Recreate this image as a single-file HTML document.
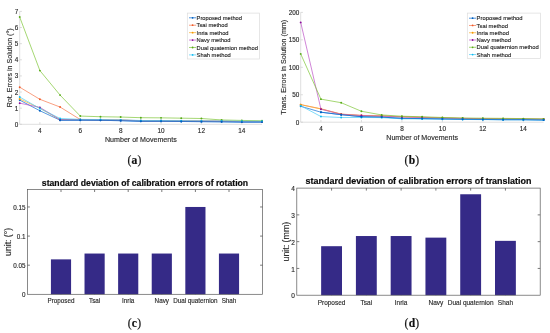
<!DOCTYPE html>
<html lang="en"><head><meta charset="utf-8"><title>Figure</title>
<style>
html,body{margin:0;padding:0;background:#fff;}
body{width:550px;height:333px;overflow:hidden;}
svg{display:block;}
text{font-family:"Liberation Sans",Arial,sans-serif;fill:#2a2a2a;stroke:#2a2a2a;stroke-width:0.14px;}
.tk{font-size:6.4px;}
.lb{font-size:7.1px;}
.lg{font-size:5.76px;fill:#1c1c1c;}
.bk{font-size:5.4px;}
.tt{font-weight:bold;fill:#0c0c0c;stroke:#0c0c0c;stroke-width:0.2px;}
.cap{font-family:"Liberation Serif","Times New Roman",serif;font-size:11.6px;fill:#111;stroke:#111;stroke-width:0.18px;letter-spacing:0.2px;}
.cap tspan{font-weight:bold;}
</style></head><body>
<svg width="550" height="333" viewBox="0 0 550 333">
<rect width="550" height="333" fill="#fff"/>
<g class="lc">
<path d="M19.7 11.4V124.3H262.0" fill="none" stroke="#cdcdcd" stroke-width="0.65"/>
<path d="M39.89 124.3v-2.2M80.28 124.3v-2.2M120.66 124.3v-2.2M161.04 124.3v-2.2M201.42 124.3v-2.2M241.81 124.3v-2.2M19.7 124.30h2.2M19.7 108.17h2.2M19.7 92.04h2.2M19.7 75.91h2.2M19.7 59.79h2.2M19.7 43.66h2.2M19.7 27.53h2.2M19.7 11.40h2.2" fill="none" stroke="#cdcdcd" stroke-width="0.7"/>
<text class="tk" x="39.89" y="132.90" text-anchor="middle">4</text>
<text class="tk" x="80.28" y="132.90" text-anchor="middle">6</text>
<text class="tk" x="120.66" y="132.90" text-anchor="middle">8</text>
<text class="tk" x="161.04" y="132.90" text-anchor="middle">10</text>
<text class="tk" x="201.42" y="132.90" text-anchor="middle">12</text>
<text class="tk" x="241.81" y="132.90" text-anchor="middle">14</text>
<text class="tk" x="18.30" y="126.80" text-anchor="end">0</text>
<text class="tk" x="18.30" y="110.67" text-anchor="end">1</text>
<text class="tk" x="18.30" y="94.54" text-anchor="end">2</text>
<text class="tk" x="18.30" y="78.41" text-anchor="end">3</text>
<text class="tk" x="18.30" y="62.29" text-anchor="end">4</text>
<text class="tk" x="18.30" y="46.16" text-anchor="end">5</text>
<text class="tk" x="18.30" y="30.03" text-anchor="end">6</text>
<text class="tk" x="18.30" y="13.90" text-anchor="end">7</text>
<text class="lb" x="140.85" y="141.60" text-anchor="middle">Number of Movements</text>
<text class="lb" transform="translate(12.2 67.85) rotate(-90)" text-anchor="middle">Rot. Errors in Solution (&#176;)</text>
<path d="M19.70 100.11L39.89 110.75L60.08 120.19L80.28 120.19L100.47 120.35L120.66 120.67L140.85 121.32L161.04 121.32L181.23 121.48L201.42 121.64L221.62 121.80L241.81 122.12L262.00 122.12" fill="none" stroke="#0A6CD2" stroke-width="0.7" stroke-linejoin="round"/>
<circle cx="19.70" cy="100.11" r="0.95" fill="#0060C0"/>
<circle cx="39.89" cy="110.75" r="0.95" fill="#0060C0"/>
<circle cx="60.08" cy="120.19" r="0.95" fill="#0060C0"/>
<circle cx="80.28" cy="120.19" r="0.95" fill="#0060C0"/>
<circle cx="100.47" cy="120.35" r="0.95" fill="#0060C0"/>
<circle cx="120.66" cy="120.67" r="0.95" fill="#0060C0"/>
<circle cx="140.85" cy="121.32" r="0.95" fill="#0060C0"/>
<circle cx="161.04" cy="121.32" r="0.95" fill="#0060C0"/>
<circle cx="181.23" cy="121.48" r="0.95" fill="#0060C0"/>
<circle cx="201.42" cy="121.64" r="0.95" fill="#0060C0"/>
<circle cx="221.62" cy="121.80" r="0.95" fill="#0060C0"/>
<circle cx="241.81" cy="122.12" r="0.95" fill="#0060C0"/>
<circle cx="262.00" cy="122.12" r="0.95" fill="#0060C0"/>
<path d="M19.70 87.20L39.89 99.30L60.08 107.04L80.28 119.54L100.47 119.70L120.66 120.03L140.85 120.67L161.04 120.67L181.23 120.83L201.42 120.99L221.62 121.15L241.81 121.48L262.00 121.48" fill="none" stroke="#F7764A" stroke-width="0.7" stroke-linejoin="round"/>
<circle cx="19.70" cy="87.20" r="0.95" fill="#F05A28"/>
<circle cx="39.89" cy="99.30" r="0.95" fill="#F05A28"/>
<circle cx="60.08" cy="107.04" r="0.95" fill="#F05A28"/>
<circle cx="80.28" cy="119.54" r="0.95" fill="#F05A28"/>
<circle cx="100.47" cy="119.70" r="0.95" fill="#F05A28"/>
<circle cx="120.66" cy="120.03" r="0.95" fill="#F05A28"/>
<circle cx="140.85" cy="120.67" r="0.95" fill="#F05A28"/>
<circle cx="161.04" cy="120.67" r="0.95" fill="#F05A28"/>
<circle cx="181.23" cy="120.83" r="0.95" fill="#F05A28"/>
<circle cx="201.42" cy="120.99" r="0.95" fill="#F05A28"/>
<circle cx="221.62" cy="121.15" r="0.95" fill="#F05A28"/>
<circle cx="241.81" cy="121.48" r="0.95" fill="#F05A28"/>
<circle cx="262.00" cy="121.48" r="0.95" fill="#F05A28"/>
<path d="M19.70 98.98L39.89 108.17L60.08 119.62L80.28 119.62L100.47 119.78L120.66 120.11L140.85 120.75L161.04 120.75L181.23 120.91L201.42 121.07L221.62 121.24L241.81 121.56L262.00 121.56" fill="none" stroke="#F9AE28" stroke-width="0.7" stroke-linejoin="round"/>
<circle cx="19.70" cy="98.98" r="0.95" fill="#F59A00"/>
<circle cx="39.89" cy="108.17" r="0.95" fill="#F59A00"/>
<circle cx="60.08" cy="119.62" r="0.95" fill="#F59A00"/>
<circle cx="80.28" cy="119.62" r="0.95" fill="#F59A00"/>
<circle cx="100.47" cy="119.78" r="0.95" fill="#F59A00"/>
<circle cx="120.66" cy="120.11" r="0.95" fill="#F59A00"/>
<circle cx="140.85" cy="120.75" r="0.95" fill="#F59A00"/>
<circle cx="161.04" cy="120.75" r="0.95" fill="#F59A00"/>
<circle cx="181.23" cy="120.91" r="0.95" fill="#F59A00"/>
<circle cx="201.42" cy="121.07" r="0.95" fill="#F59A00"/>
<circle cx="221.62" cy="121.24" r="0.95" fill="#F59A00"/>
<circle cx="241.81" cy="121.56" r="0.95" fill="#F59A00"/>
<circle cx="262.00" cy="121.56" r="0.95" fill="#F59A00"/>
<path d="M19.70 103.17L39.89 107.36L60.08 119.70L80.28 119.70L100.47 119.86L120.66 120.19L140.85 120.83L161.04 120.83L181.23 120.99L201.42 121.15L221.62 121.32L241.81 121.64L262.00 121.64" fill="none" stroke="#BC52C6" stroke-width="0.7" stroke-linejoin="round"/>
<circle cx="19.70" cy="103.17" r="0.95" fill="#8A0A9A"/>
<circle cx="39.89" cy="107.36" r="0.95" fill="#8A0A9A"/>
<circle cx="60.08" cy="119.70" r="0.95" fill="#8A0A9A"/>
<circle cx="80.28" cy="119.70" r="0.95" fill="#8A0A9A"/>
<circle cx="100.47" cy="119.86" r="0.95" fill="#8A0A9A"/>
<circle cx="120.66" cy="120.19" r="0.95" fill="#8A0A9A"/>
<circle cx="140.85" cy="120.83" r="0.95" fill="#8A0A9A"/>
<circle cx="161.04" cy="120.83" r="0.95" fill="#8A0A9A"/>
<circle cx="181.23" cy="120.99" r="0.95" fill="#8A0A9A"/>
<circle cx="201.42" cy="121.15" r="0.95" fill="#8A0A9A"/>
<circle cx="221.62" cy="121.32" r="0.95" fill="#8A0A9A"/>
<circle cx="241.81" cy="121.64" r="0.95" fill="#8A0A9A"/>
<circle cx="262.00" cy="121.64" r="0.95" fill="#8A0A9A"/>
<path d="M19.70 17.05L39.89 70.59L60.08 95.11L80.28 116.07L100.47 116.72L120.66 117.04L140.85 117.69L161.04 117.85L181.23 118.17L201.42 118.49L221.62 119.95L241.81 120.43L262.00 120.75" fill="none" stroke="#7EC636" stroke-width="0.7" stroke-linejoin="round"/>
<circle cx="19.70" cy="17.05" r="0.95" fill="#58AA18"/>
<circle cx="39.89" cy="70.59" r="0.95" fill="#58AA18"/>
<circle cx="60.08" cy="95.11" r="0.95" fill="#58AA18"/>
<circle cx="80.28" cy="116.07" r="0.95" fill="#58AA18"/>
<circle cx="100.47" cy="116.72" r="0.95" fill="#58AA18"/>
<circle cx="120.66" cy="117.04" r="0.95" fill="#58AA18"/>
<circle cx="140.85" cy="117.69" r="0.95" fill="#58AA18"/>
<circle cx="161.04" cy="117.85" r="0.95" fill="#58AA18"/>
<circle cx="181.23" cy="118.17" r="0.95" fill="#58AA18"/>
<circle cx="201.42" cy="118.49" r="0.95" fill="#58AA18"/>
<circle cx="221.62" cy="119.95" r="0.95" fill="#58AA18"/>
<circle cx="241.81" cy="120.43" r="0.95" fill="#58AA18"/>
<circle cx="262.00" cy="120.75" r="0.95" fill="#58AA18"/>
<path d="M19.70 97.04L39.89 108.49L60.08 118.49L80.28 119.38L100.47 119.54L120.66 119.86L140.85 120.51L161.04 120.51L181.23 120.67L201.42 120.83L221.62 120.99L241.81 121.32L262.00 121.32" fill="none" stroke="#48CCF8" stroke-width="0.7" stroke-linejoin="round"/>
<circle cx="19.70" cy="97.04" r="0.95" fill="#10BCF2"/>
<circle cx="39.89" cy="108.49" r="0.95" fill="#10BCF2"/>
<circle cx="60.08" cy="118.49" r="0.95" fill="#10BCF2"/>
<circle cx="80.28" cy="119.38" r="0.95" fill="#10BCF2"/>
<circle cx="100.47" cy="119.54" r="0.95" fill="#10BCF2"/>
<circle cx="120.66" cy="119.86" r="0.95" fill="#10BCF2"/>
<circle cx="140.85" cy="120.51" r="0.95" fill="#10BCF2"/>
<circle cx="161.04" cy="120.51" r="0.95" fill="#10BCF2"/>
<circle cx="181.23" cy="120.67" r="0.95" fill="#10BCF2"/>
<circle cx="201.42" cy="120.83" r="0.95" fill="#10BCF2"/>
<circle cx="221.62" cy="120.99" r="0.95" fill="#10BCF2"/>
<circle cx="241.81" cy="121.32" r="0.95" fill="#10BCF2"/>
<circle cx="262.00" cy="121.32" r="0.95" fill="#10BCF2"/>
<path d="M60.08 120.19L80.28 120.19L100.47 120.35L120.66 120.67L140.85 121.32L161.04 121.32L181.23 121.48L201.42 121.64L221.62 121.80L241.81 122.12L262.00 122.12" fill="none" stroke="#0A6CD2" stroke-width="0.7" stroke-linejoin="round"/>
<circle cx="60.08" cy="120.19" r="0.95" fill="#0060C0"/>
<circle cx="80.28" cy="120.19" r="0.95" fill="#0060C0"/>
<circle cx="100.47" cy="120.35" r="0.95" fill="#0060C0"/>
<circle cx="120.66" cy="120.67" r="0.95" fill="#0060C0"/>
<circle cx="140.85" cy="121.32" r="0.95" fill="#0060C0"/>
<circle cx="161.04" cy="121.32" r="0.95" fill="#0060C0"/>
<circle cx="181.23" cy="121.48" r="0.95" fill="#0060C0"/>
<circle cx="201.42" cy="121.64" r="0.95" fill="#0060C0"/>
<circle cx="221.62" cy="121.80" r="0.95" fill="#0060C0"/>
<circle cx="241.81" cy="122.12" r="0.95" fill="#0060C0"/>
<circle cx="262.00" cy="122.12" r="0.95" fill="#0060C0"/>
<rect x="187.3" y="13.1" width="72.3" height="45.9" fill="#fff" stroke="#dcdcdc" stroke-width="0.7"/>
<path d="M189.00 17.80h7.2" stroke="#0A6CD2" stroke-width="0.7"/>
<circle cx="192.60" cy="17.80" r="0.9" fill="#0060C0"/>
<text class="lg" style="font-size:5.76px" x="196.60" y="19.85">Proposed method</text>
<path d="M189.00 25.22h7.2" stroke="#F7764A" stroke-width="0.7"/>
<circle cx="192.60" cy="25.22" r="0.9" fill="#F05A28"/>
<text class="lg" style="font-size:5.76px" x="196.60" y="27.27">Tsai method</text>
<path d="M189.00 32.64h7.2" stroke="#F9AE28" stroke-width="0.7"/>
<circle cx="192.60" cy="32.64" r="0.9" fill="#F59A00"/>
<text class="lg" style="font-size:5.76px" x="196.60" y="34.69">Inria method</text>
<path d="M189.00 40.06h7.2" stroke="#BC52C6" stroke-width="0.7"/>
<circle cx="192.60" cy="40.06" r="0.9" fill="#8A0A9A"/>
<text class="lg" style="font-size:5.76px" x="196.60" y="42.11">Navy method</text>
<path d="M189.00 47.48h7.2" stroke="#7EC636" stroke-width="0.7"/>
<circle cx="192.60" cy="47.48" r="0.9" fill="#58AA18"/>
<text class="lg" style="font-size:5.76px" x="196.60" y="49.53">Dual quaternion method</text>
<path d="M189.00 54.90h7.2" stroke="#48CCF8" stroke-width="0.7"/>
<circle cx="192.60" cy="54.90" r="0.9" fill="#10BCF2"/>
<text class="lg" style="font-size:5.76px" x="196.60" y="56.95">Shah method</text>
</g>
<g class="lc">
<path d="M300.7 12.4V122.2H543.6" fill="none" stroke="#cdcdcd" stroke-width="0.65"/>
<path d="M320.94 122.2v-2.2M361.43 122.2v-2.2M401.91 122.2v-2.2M442.39 122.2v-2.2M482.88 122.2v-2.2M523.36 122.2v-2.2M300.7 122.20h2.2M300.7 94.75h2.2M300.7 67.30h2.2M300.7 39.85h2.2M300.7 12.40h2.2" fill="none" stroke="#cdcdcd" stroke-width="0.7"/>
<text class="tk" x="320.94" y="130.80" text-anchor="middle">4</text>
<text class="tk" x="361.43" y="130.80" text-anchor="middle">6</text>
<text class="tk" x="401.91" y="130.80" text-anchor="middle">8</text>
<text class="tk" x="442.39" y="130.80" text-anchor="middle">10</text>
<text class="tk" x="482.88" y="130.80" text-anchor="middle">12</text>
<text class="tk" x="523.36" y="130.80" text-anchor="middle">14</text>
<text class="tk" x="299.30" y="124.70" text-anchor="end">0</text>
<text class="tk" x="299.30" y="97.25" text-anchor="end">50</text>
<text class="tk" x="299.30" y="69.80" text-anchor="end">100</text>
<text class="tk" x="299.30" y="42.35" text-anchor="end">150</text>
<text class="tk" x="299.30" y="14.90" text-anchor="end">200</text>
<text class="lb" x="422.15" y="139.50" text-anchor="middle">Number of Movements</text>
<text class="lb" transform="translate(286.1 67.30) rotate(-90)" text-anchor="middle">Trans. Errors in Solution (mm)</text>
<path d="M300.70 106.28L320.94 112.21L341.18 114.68L361.43 116.71L381.67 117.09L401.91 118.36L422.15 118.58L442.39 118.91L462.63 119.29L482.88 119.45L503.12 119.67L523.36 119.67L543.60 120.00" fill="none" stroke="#0A6CD2" stroke-width="0.7" stroke-linejoin="round"/>
<circle cx="300.70" cy="106.28" r="0.95" fill="#0060C0"/>
<circle cx="320.94" cy="112.21" r="0.95" fill="#0060C0"/>
<circle cx="341.18" cy="114.68" r="0.95" fill="#0060C0"/>
<circle cx="361.43" cy="116.71" r="0.95" fill="#0060C0"/>
<circle cx="381.67" cy="117.09" r="0.95" fill="#0060C0"/>
<circle cx="401.91" cy="118.36" r="0.95" fill="#0060C0"/>
<circle cx="422.15" cy="118.58" r="0.95" fill="#0060C0"/>
<circle cx="442.39" cy="118.91" r="0.95" fill="#0060C0"/>
<circle cx="462.63" cy="119.29" r="0.95" fill="#0060C0"/>
<circle cx="482.88" cy="119.45" r="0.95" fill="#0060C0"/>
<circle cx="503.12" cy="119.67" r="0.95" fill="#0060C0"/>
<circle cx="523.36" cy="119.67" r="0.95" fill="#0060C0"/>
<circle cx="543.60" cy="120.00" r="0.95" fill="#0060C0"/>
<path d="M300.70 104.63L320.94 108.75L341.18 114.07L361.43 115.39L381.67 115.83L401.91 116.71L422.15 117.26L442.39 117.81L462.63 118.36L482.88 118.58L503.12 118.80L523.36 118.91L543.60 119.18" fill="none" stroke="#F7764A" stroke-width="0.7" stroke-linejoin="round"/>
<circle cx="300.70" cy="104.63" r="0.95" fill="#F05A28"/>
<circle cx="320.94" cy="108.75" r="0.95" fill="#F05A28"/>
<circle cx="341.18" cy="114.07" r="0.95" fill="#F05A28"/>
<circle cx="361.43" cy="115.39" r="0.95" fill="#F05A28"/>
<circle cx="381.67" cy="115.83" r="0.95" fill="#F05A28"/>
<circle cx="401.91" cy="116.71" r="0.95" fill="#F05A28"/>
<circle cx="422.15" cy="117.26" r="0.95" fill="#F05A28"/>
<circle cx="442.39" cy="117.81" r="0.95" fill="#F05A28"/>
<circle cx="462.63" cy="118.36" r="0.95" fill="#F05A28"/>
<circle cx="482.88" cy="118.58" r="0.95" fill="#F05A28"/>
<circle cx="503.12" cy="118.80" r="0.95" fill="#F05A28"/>
<circle cx="523.36" cy="118.91" r="0.95" fill="#F05A28"/>
<circle cx="543.60" cy="119.18" r="0.95" fill="#F05A28"/>
<path d="M300.70 104.63L320.94 109.02L341.18 114.24L361.43 115.50L381.67 115.94L401.91 116.82L422.15 117.37L442.39 117.92L462.63 118.41L482.88 118.63L503.12 118.85L523.36 118.96L543.60 119.24" fill="none" stroke="#F9AE28" stroke-width="0.7" stroke-linejoin="round"/>
<circle cx="300.70" cy="104.63" r="0.95" fill="#F59A00"/>
<circle cx="320.94" cy="109.02" r="0.95" fill="#F59A00"/>
<circle cx="341.18" cy="114.24" r="0.95" fill="#F59A00"/>
<circle cx="361.43" cy="115.50" r="0.95" fill="#F59A00"/>
<circle cx="381.67" cy="115.94" r="0.95" fill="#F59A00"/>
<circle cx="401.91" cy="116.82" r="0.95" fill="#F59A00"/>
<circle cx="422.15" cy="117.37" r="0.95" fill="#F59A00"/>
<circle cx="442.39" cy="117.92" r="0.95" fill="#F59A00"/>
<circle cx="462.63" cy="118.41" r="0.95" fill="#F59A00"/>
<circle cx="482.88" cy="118.63" r="0.95" fill="#F59A00"/>
<circle cx="503.12" cy="118.85" r="0.95" fill="#F59A00"/>
<circle cx="523.36" cy="118.96" r="0.95" fill="#F59A00"/>
<circle cx="543.60" cy="119.24" r="0.95" fill="#F59A00"/>
<path d="M300.70 22.39L320.94 109.19L341.18 114.35L361.43 115.50L381.67 116.16L401.91 116.98L422.15 117.53L442.39 118.08L462.63 118.52L482.88 118.74L503.12 118.91L523.36 119.02L543.60 119.29" fill="none" stroke="#BC52C6" stroke-width="0.7" stroke-linejoin="round"/>
<circle cx="300.70" cy="22.39" r="0.95" fill="#8A0A9A"/>
<circle cx="320.94" cy="109.19" r="0.95" fill="#8A0A9A"/>
<circle cx="341.18" cy="114.35" r="0.95" fill="#8A0A9A"/>
<circle cx="361.43" cy="115.50" r="0.95" fill="#8A0A9A"/>
<circle cx="381.67" cy="116.16" r="0.95" fill="#8A0A9A"/>
<circle cx="401.91" cy="116.98" r="0.95" fill="#8A0A9A"/>
<circle cx="422.15" cy="117.53" r="0.95" fill="#8A0A9A"/>
<circle cx="442.39" cy="118.08" r="0.95" fill="#8A0A9A"/>
<circle cx="462.63" cy="118.52" r="0.95" fill="#8A0A9A"/>
<circle cx="482.88" cy="118.74" r="0.95" fill="#8A0A9A"/>
<circle cx="503.12" cy="118.91" r="0.95" fill="#8A0A9A"/>
<circle cx="523.36" cy="119.02" r="0.95" fill="#8A0A9A"/>
<circle cx="543.60" cy="119.29" r="0.95" fill="#8A0A9A"/>
<path d="M300.70 53.90L320.94 99.14L341.18 102.71L361.43 111.27L381.67 114.95L401.91 116.22L422.15 116.76L442.39 117.48L462.63 118.03L482.88 118.19L503.12 118.36L523.36 118.58L543.60 118.91" fill="none" stroke="#7EC636" stroke-width="0.7" stroke-linejoin="round"/>
<circle cx="300.70" cy="53.90" r="0.95" fill="#58AA18"/>
<circle cx="320.94" cy="99.14" r="0.95" fill="#58AA18"/>
<circle cx="341.18" cy="102.71" r="0.95" fill="#58AA18"/>
<circle cx="361.43" cy="111.27" r="0.95" fill="#58AA18"/>
<circle cx="381.67" cy="114.95" r="0.95" fill="#58AA18"/>
<circle cx="401.91" cy="116.22" r="0.95" fill="#58AA18"/>
<circle cx="422.15" cy="116.76" r="0.95" fill="#58AA18"/>
<circle cx="442.39" cy="117.48" r="0.95" fill="#58AA18"/>
<circle cx="462.63" cy="118.03" r="0.95" fill="#58AA18"/>
<circle cx="482.88" cy="118.19" r="0.95" fill="#58AA18"/>
<circle cx="503.12" cy="118.36" r="0.95" fill="#58AA18"/>
<circle cx="523.36" cy="118.58" r="0.95" fill="#58AA18"/>
<circle cx="543.60" cy="118.91" r="0.95" fill="#58AA18"/>
<path d="M300.70 105.73L320.94 116.55L341.18 117.53L361.43 117.48L381.67 117.64L401.91 118.80L422.15 118.96L442.39 119.18L462.63 119.45L482.88 119.62L503.12 119.78L523.36 119.84L543.60 120.11" fill="none" stroke="#48CCF8" stroke-width="0.7" stroke-linejoin="round"/>
<circle cx="300.70" cy="105.73" r="0.95" fill="#10BCF2"/>
<circle cx="320.94" cy="116.55" r="0.95" fill="#10BCF2"/>
<circle cx="341.18" cy="117.53" r="0.95" fill="#10BCF2"/>
<circle cx="361.43" cy="117.48" r="0.95" fill="#10BCF2"/>
<circle cx="381.67" cy="117.64" r="0.95" fill="#10BCF2"/>
<circle cx="401.91" cy="118.80" r="0.95" fill="#10BCF2"/>
<circle cx="422.15" cy="118.96" r="0.95" fill="#10BCF2"/>
<circle cx="442.39" cy="119.18" r="0.95" fill="#10BCF2"/>
<circle cx="462.63" cy="119.45" r="0.95" fill="#10BCF2"/>
<circle cx="482.88" cy="119.62" r="0.95" fill="#10BCF2"/>
<circle cx="503.12" cy="119.78" r="0.95" fill="#10BCF2"/>
<circle cx="523.36" cy="119.84" r="0.95" fill="#10BCF2"/>
<circle cx="543.60" cy="120.11" r="0.95" fill="#10BCF2"/>
<path d="M320.94 112.21L341.18 114.68L361.43 116.71L381.67 117.09L401.91 118.36L422.15 118.58L442.39 118.91L462.63 119.29L482.88 119.45L503.12 119.67L523.36 119.67L543.60 120.00" fill="none" stroke="#0A6CD2" stroke-width="0.7" stroke-linejoin="round"/>
<circle cx="320.94" cy="112.21" r="0.95" fill="#0060C0"/>
<circle cx="341.18" cy="114.68" r="0.95" fill="#0060C0"/>
<circle cx="361.43" cy="116.71" r="0.95" fill="#0060C0"/>
<circle cx="381.67" cy="117.09" r="0.95" fill="#0060C0"/>
<circle cx="401.91" cy="118.36" r="0.95" fill="#0060C0"/>
<circle cx="422.15" cy="118.58" r="0.95" fill="#0060C0"/>
<circle cx="442.39" cy="118.91" r="0.95" fill="#0060C0"/>
<circle cx="462.63" cy="119.29" r="0.95" fill="#0060C0"/>
<circle cx="482.88" cy="119.45" r="0.95" fill="#0060C0"/>
<circle cx="503.12" cy="119.67" r="0.95" fill="#0060C0"/>
<circle cx="523.36" cy="119.67" r="0.95" fill="#0060C0"/>
<circle cx="543.60" cy="120.00" r="0.95" fill="#0060C0"/>
<rect x="467.3" y="13.1" width="73.1" height="45.4" fill="#fff" stroke="#dcdcdc" stroke-width="0.7"/>
<path d="M469.00 18.20h7.2" stroke="#0A6CD2" stroke-width="0.7"/>
<circle cx="472.60" cy="18.20" r="0.9" fill="#0060C0"/>
<text class="lg" style="font-size:5.83px" x="476.60" y="20.25">Proposed method</text>
<path d="M469.00 25.47h7.2" stroke="#F7764A" stroke-width="0.7"/>
<circle cx="472.60" cy="25.47" r="0.9" fill="#F05A28"/>
<text class="lg" style="font-size:5.83px" x="476.60" y="27.52">Tsai method</text>
<path d="M469.00 32.74h7.2" stroke="#F9AE28" stroke-width="0.7"/>
<circle cx="472.60" cy="32.74" r="0.9" fill="#F59A00"/>
<text class="lg" style="font-size:5.83px" x="476.60" y="34.79">Inria method</text>
<path d="M469.00 40.01h7.2" stroke="#BC52C6" stroke-width="0.7"/>
<circle cx="472.60" cy="40.01" r="0.9" fill="#8A0A9A"/>
<text class="lg" style="font-size:5.83px" x="476.60" y="42.06">Navy method</text>
<path d="M469.00 47.28h7.2" stroke="#7EC636" stroke-width="0.7"/>
<circle cx="472.60" cy="47.28" r="0.9" fill="#58AA18"/>
<text class="lg" style="font-size:5.83px" x="476.60" y="49.33">Dual quaternion method</text>
<path d="M469.00 54.55h7.2" stroke="#48CCF8" stroke-width="0.7"/>
<circle cx="472.60" cy="54.55" r="0.9" fill="#10BCF2"/>
<text class="lg" style="font-size:5.83px" x="476.60" y="56.60">Shah method</text>
</g>
<g class="bc">
<path d="M61.00 294.3v-2.5M61.00 189.5v2.5M94.60 294.3v-2.5M94.60 189.5v2.5M128.20 294.3v-2.5M128.20 189.5v2.5M161.80 294.3v-2.5M161.80 189.5v2.5M195.40 294.3v-2.5M195.40 189.5v2.5M229.00 294.3v-2.5M229.00 189.5v2.5M27.4 265.19h2.5M262.6 265.19h-2.5M27.4 236.08h2.5M262.6 236.08h-2.5M27.4 206.97h2.5M262.6 206.97h-2.5" fill="none" stroke="#585858" stroke-width="0.8"/>
<rect x="50.92" y="259.37" width="20.16" height="34.93" fill="#352A87"/>
<rect x="84.52" y="253.54" width="20.16" height="40.76" fill="#352A87"/>
<rect x="118.12" y="253.54" width="20.16" height="40.76" fill="#352A87"/>
<rect x="151.72" y="253.54" width="20.16" height="40.76" fill="#352A87"/>
<rect x="185.32" y="206.97" width="20.16" height="87.33" fill="#352A87"/>
<rect x="218.92" y="253.54" width="20.16" height="40.76" fill="#352A87"/>
<rect x="27.4" y="189.5" width="235.20" height="104.80" fill="none" stroke="#585858" stroke-width="0.7"/>
<text style="font-size:6.3px" x="61.00" y="302.90" text-anchor="middle">Proposed</text>
<text style="font-size:6.3px" x="94.60" y="302.90" text-anchor="middle">Tsai</text>
<text style="font-size:6.3px" x="128.20" y="302.90" text-anchor="middle">Inria</text>
<text style="font-size:6.3px" x="161.80" y="302.90" text-anchor="middle">Navy</text>
<text style="font-size:6.3px" x="195.40" y="302.90" text-anchor="middle">Dual quaternion</text>
<text style="font-size:6.3px" x="229.00" y="302.90" text-anchor="middle">Shah</text>
<text style="font-size:6.3px" x="25.50" y="297.37" text-anchor="end">0</text>
<text style="font-size:6.3px" x="25.50" y="268.26" text-anchor="end">0.05</text>
<text style="font-size:6.3px" x="25.50" y="239.15" text-anchor="end">0.1</text>
<text style="font-size:6.3px" x="25.50" y="210.03" text-anchor="end">0.15</text>
<text class="tt" style="font-size:8.67px" x="145.00" y="185.8" text-anchor="middle">standard deviation of calibration errors of rotation</text>
<text style="font-size:8.67px" transform="translate(11.3 241.90) rotate(-90)" text-anchor="middle">unit: (&#176;)</text>
</g>
<g class="bc">
<path d="M331.57 295.2v-2.5M331.57 188.1v2.5M366.34 295.2v-2.5M366.34 188.1v2.5M401.11 295.2v-2.5M401.11 188.1v2.5M435.89 295.2v-2.5M435.89 188.1v2.5M470.66 295.2v-2.5M470.66 188.1v2.5M505.43 295.2v-2.5M505.43 188.1v2.5M296.8 268.43h2.5M540.2 268.43h-2.5M296.8 241.65h2.5M540.2 241.65h-2.5M296.8 214.88h2.5M540.2 214.88h-2.5" fill="none" stroke="#585858" stroke-width="0.8"/>
<rect x="321.14" y="246.20" width="20.86" height="49.00" fill="#352A87"/>
<rect x="355.91" y="236.03" width="20.86" height="59.17" fill="#352A87"/>
<rect x="390.68" y="236.03" width="20.86" height="59.17" fill="#352A87"/>
<rect x="425.45" y="237.63" width="20.86" height="57.57" fill="#352A87"/>
<rect x="460.23" y="194.26" width="20.86" height="100.94" fill="#352A87"/>
<rect x="495.00" y="240.85" width="20.86" height="54.35" fill="#352A87"/>
<rect x="296.8" y="188.1" width="243.40" height="107.10" fill="none" stroke="#585858" stroke-width="0.7"/>
<text style="font-size:6.5px" x="331.57" y="304.50" text-anchor="middle">Proposed</text>
<text style="font-size:6.5px" x="366.34" y="304.50" text-anchor="middle">Tsai</text>
<text style="font-size:6.5px" x="401.11" y="304.50" text-anchor="middle">Inria</text>
<text style="font-size:6.5px" x="435.89" y="304.50" text-anchor="middle">Navy</text>
<text style="font-size:6.5px" x="470.66" y="304.50" text-anchor="middle">Dual quaternion</text>
<text style="font-size:6.5px" x="505.43" y="304.50" text-anchor="middle">Shah</text>
<text style="font-size:6.5px" x="294.90" y="298.34" text-anchor="end">0</text>
<text style="font-size:6.5px" x="294.90" y="271.56" text-anchor="end">1</text>
<text style="font-size:6.5px" x="294.90" y="244.79" text-anchor="end">2</text>
<text style="font-size:6.5px" x="294.90" y="218.02" text-anchor="end">3</text>
<text style="font-size:6.5px" x="294.90" y="191.24" text-anchor="end">4</text>
<text class="tt" style="font-size:8.96px" x="418.50" y="184.2" text-anchor="middle">standard deviation of calibration errors of translation</text>
<text style="font-size:8.8px" transform="translate(289.3 241.65) rotate(-90)" text-anchor="middle">unit: (mm)</text>
</g>
<text class="cap" x="134.5" y="163.6" text-anchor="middle">(<tspan>a</tspan>)</text>
<text class="cap" x="412.0" y="163.6" text-anchor="middle">(<tspan>b</tspan>)</text>
<text class="cap" x="134.5" y="327.3" text-anchor="middle">(<tspan>c</tspan>)</text>
<text class="cap" x="412.0" y="327.3" text-anchor="middle">(<tspan>d</tspan>)</text>
</svg></body></html>
